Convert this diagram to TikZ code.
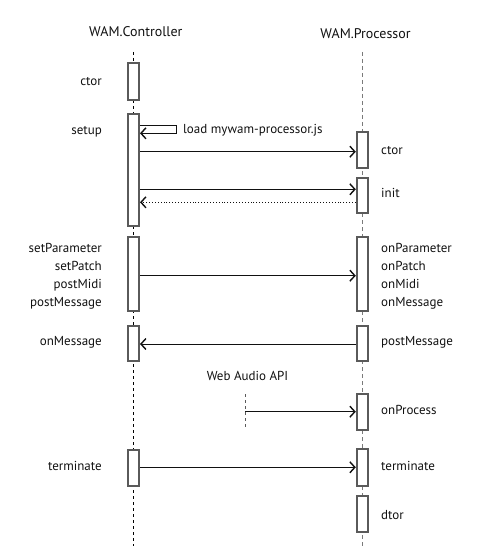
\documentclass[tikz,border=0pt]{standalone}
\usepackage{fontspec}
\setmainfont{PT Sans}
\usetikzlibrary{arrows.meta}
\definecolor{boxgray}{HTML}{5A5A5A}
\definecolor{lifegray}{HTML}{7A7A7A}
\definecolor{txt}{HTML}{111111}
\begin{document}
\begin{tikzpicture}[x=1pt,y=-1pt,
  act/.style={draw=boxgray,line width=2pt,fill=white,rectangle,inner sep=0pt,minimum width=11pt},
  msg/.style={draw=txt,line width=0.9pt,-{Straight Barb[length=5pt,width=11pt,line width=1.4pt]}},
  ret/.style={msg,dotted},
  lbl/.style={font=\fontsize{13}{18}\selectfont,text=txt,inner sep=0pt},
  lleft/.style={lbl,anchor=east,align=right},
  lright/.style={lbl,anchor=west,align=left},
  ctrlline/.style={draw=black,line width=0.7pt,dash pattern=on 3pt off 3pt},
  procline/.style={draw=lifegray,line width=1.4pt,dash pattern=on 4pt off 3pt}]
\useasboundingbox (0,0) rectangle (501,559);
% titles
\node[lbl,font=\fontsize{14}{16}\selectfont] (tc) at (135.8,32) {WAM.Controller};
\node[lbl,font=\fontsize{14}{16}\selectfont] (tp) at (365.5,34) {WAM.Processor};
% lifelines
\coordinate (ctop) at (133.5,52);
\coordinate (cbot) at (133.5,546);
\coordinate (ptop) at (362.3,52);
\coordinate (pbot) at (362.3,546);
\draw[ctrlline] (ctop) -- (cbot);
\draw[procline] (ptop) -- (pbot);
% controller activations
\node[act,minimum height=37pt] (cb1) at (133.5,81.5) {};
\node[act,minimum height=111.4pt] (cb2) at (133.5,170) {};
\node[act,minimum height=74.6pt] (cb3) at (133.5,274) {};
\node[act,minimum height=34.7pt] (cb4) at (133.5,343.35) {};
\node[act,minimum height=35.7pt] (cb5) at (133.5,467.85) {};
% processor activations
\node[act,minimum height=36.3pt] (pb1) at (362.3,150.15) {};
\node[act,minimum height=35.6pt] (pb2) at (362.3,195.5) {};
\node[act,minimum height=74.6pt] (pb3) at (362.3,274) {};
\node[act,minimum height=34.7pt] (pb4) at (362.3,343.35) {};
\node[act,minimum height=36.3pt] (pb5) at (362.3,411.85) {};
\node[act,minimum height=36.7pt] (pb6) at (362.3,467.35) {};
\node[act,minimum height=36.3pt] (pb7) at (362.3,514.15) {};
% left labels
\node[lleft] (l1) at (102,82) {ctor};
\node[lleft] (l2) at (102,132) {setup};
\node[lleft] (l3) at (102,276) {setParameter\\setPatch\\postMidi\\postMessage};
\node[lleft] (l4) at (102,342.7) {onMessage};
\node[lleft] (l5) at (102,466) {terminate};
% right labels
\node[lright] (r1) at (381,150.7) {ctor};
\node[lright] (r2) at (381,193) {init};
\node[lright] (r3) at (381,276) {onParameter\\onPatch\\onMidi\\onMessage};
\node[lright] (r4) at (381,342.7) {postMessage};
\node[lright] (r5) at (381,410) {onProcess};
\node[lright] (r6) at (381,466) {terminate};
\node[lright] (r7) at (381,515) {dtor};
% self call
\coordinate (sl1) at (176,125);
\coordinate (sl2) at (176,133.3);
\draw[msg] (cb2.east |- sl1) -- (sl1) -- (sl2) -- (cb2.east |- sl2);
\node[lright] (loadl) at (183,130) {load mywam-processor.js};
% messages
\draw[msg] (cb2.east |- 0,151.7) -- (pb1.west |- 0,151.7);
\draw[msg] (cb2.east |- 0,189.3) -- (pb2.west |- 0,189.3);
\draw[ret] (pb2.west |- 0,202.3) -- (cb2.east |- 0,202.3);
\draw[msg] (cb3.east |- 0,275.7) -- (pb3.west |- 0,275.7);
\draw[msg] (pb4.west |- 0,344) -- (cb4.east |- 0,344);
\draw[msg] (cb5.east |- 0,467.3) -- (pb6.west |- 0,467.3);
% web audio api
\node[lbl] (wa) at (247.5,376) {Web Audio API};
\coordinate (wtop) at (245,394.3);
\coordinate (wbot) at (245,430);
\draw[ctrlline,draw=boxgray] (wtop) -- (wbot);
\draw[msg] (wtop |- 0,411.7) -- (pb5.west |- 0,411.7);
\end{tikzpicture}
\end{document}
